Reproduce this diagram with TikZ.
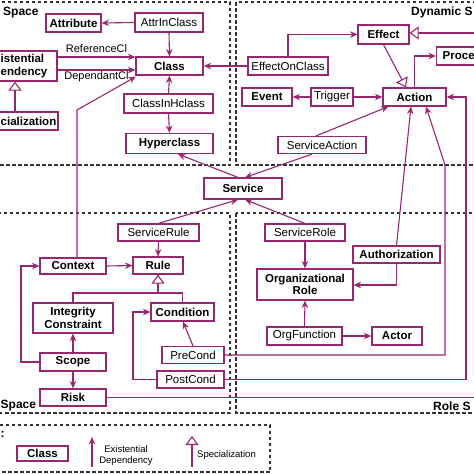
\documentclass[tikz,border=0pt]{standalone}
\usepackage{fontspec}
\setmainfont{Liberation Sans}
\usetikzlibrary{arrows.meta}
\definecolor{mag}{RGB}{150,40,112}
\begin{document}
\begin{tikzpicture}[x=1pt,y=-1pt,
  box/.style={draw=mag, line width=1.2pt, fill=white, inner sep=0pt, align=center},
  cls/.style={box, font=\fontsize{11.5}{12.5}\selectfont\bfseries},
  rel/.style={box, font=\fontsize{11.5}{12.5}\selectfont},
  ctext/.style={inner sep=0pt, align=left, font=\fontsize{11.5}{12.5}\selectfont\bfseries},
  ln/.style={draw=mag, line width=1.1pt},
  ed/.style={ln, -{Stealth[length=7.5pt,width=6.5pt,inset=2.5pt]}},
  sp/.style={ln, -{Triangle[open,length=9pt,width=13pt,fill=white]}},
  region/.style={draw=black!80, dash pattern=on 3.5pt off 2.5pt, line width=1.2pt},
  rlabel/.style={font=\fontsize{12}{13}\selectfont\bfseries, inner sep=0pt},
  lbl/.style={font=\fontsize{11}{12}\selectfont, inner sep=0pt},
  leg/.style={font=\fontsize{9.5}{10.5}\selectfont, inner sep=0pt, align=center}
]
\useasboundingbox (0,0) rectangle (474,474);
\clip (0,0) rectangle (474,474);
\fill[white] (0,0) rectangle (474,474);

% regions
\draw[region] (-5,2) rectangle (230,165);
\draw[region] (236,2) rectangle (490,165);
\draw[region] (-5,213) rectangle (230,413);
\draw[region] (236,213) rectangle (490,413);
\draw[region] (-5,425) rectangle (270,472);

\node[rlabel, anchor=west] (lts) at (3,13) {Space};
\node[rlabel, anchor=west] (ltd) at (411,12) {Dynamic S};
\node[rlabel, anchor=west] (lbs) at (0.5,406) {Space};
\node[rlabel, anchor=west] (lbr) at (433,406) {Role S};
\node[rlabel, anchor=west] (lleg) at (0.5,434) {:};

% nodes
\node[cls, minimum width=55pt, minimum height=18pt] (attr) at (73.5,23) {Attribute};
\node[rel, minimum width=68pt, minimum height=19pt] (aic) at (169,22.5) {AttrInClass};
\node[cls, minimum width=67pt, minimum height=18pt] (cls) at (169.5,66) {Class};
\node[cls, minimum width=84pt, minimum height=30pt] (exd) at (15,66) {};
\node[ctext, anchor=west, align=left] (exdt) at (0.5,66) {istential\\endency};
\node[cls, minimum width=84pt, minimum height=18pt] (spc) at (16,121) {};
\node[ctext, anchor=west] (spct) at (0.5,121) {cialization};
\node[rel, minimum width=89pt, minimum height=19pt] (cih) at (168.5,103.5) {ClassInHclass};
\node[cls, minimum width=87pt, minimum height=20pt] (hyp) at (169.5,143.5) {Hyperclass};
\node[rel, minimum width=80pt, minimum height=18pt] (eoc) at (288,66) {EffectOnClass};
\node[cls, minimum width=51pt, minimum height=19pt] (eff) at (383.5,34.5) {Effect};
\node[cls, minimum width=62pt, minimum height=18pt, anchor=west] (proc) at (436,56) {};
\node[ctext, anchor=west] (proct) at (442.5,56) {Proce};
\node[cls, minimum width=63pt, minimum height=18pt] (act) at (414.5,97) {Action};
\node[cls, minimum width=50pt, minimum height=18pt] (evt) at (267,97) {Event};
\node[rel, minimum width=42pt, minimum height=18pt] (trg) at (332,97) {Trigger};
\node[rel, minimum width=88pt, minimum height=17pt] (sa) at (322,145) {ServiceAction};
\node[cls, minimum width=78pt, minimum height=21pt] (srv) at (243,188.5) {Service};
\node[rel, minimum width=81pt, minimum height=17pt] (sr) at (158.5,232.5) {ServiceRule};
\node[rel, minimum width=80pt, minimum height=17pt] (srole) at (305,232.5) {ServiceRole};
\node[cls, minimum width=50pt, minimum height=17pt] (rule) at (158,265.5) {Rule};
\node[cls, minimum width=66pt, minimum height=16pt] (ctx) at (73,266) {Context};
\node[cls, minimum width=87pt, minimum height=17pt] (auth) at (396.5,254.5) {Authorization};
\node[cls, minimum width=96pt, minimum height=31pt] (orole) at (305,284.5) {Organizational\\Role};
\node[rel, minimum width=75pt, minimum height=18pt] (ofn) at (304.5,336) {OrgFunction};
\node[cls, minimum width=50pt, minimum height=18pt] (actor) at (397,336) {Actor};
\node[cls, minimum width=80pt, minimum height=30pt] (ic) at (73,318) {Integrity\\Constraint};
\node[cls, minimum width=63pt, minimum height=18pt] (cond) at (182.5,312) {Condition};
\node[rel, minimum width=62pt, minimum height=17pt] (prec) at (193,355) {PreCond};
\node[rel, minimum width=67pt, minimum height=17pt] (postc) at (190.5,379.5) {PostCond};
\node[cls, minimum width=66pt, minimum height=18pt] (scope) at (73,362) {Scope};
\node[cls, minimum width=66pt, minimum height=17pt] (risk) at (73,397.5) {Risk};

% connectors
\draw[ed] (aic.west) -- (attr.east);
\draw[ed] (aic.south) -- (cls.north);
\draw[ed] ([yshift=9pt]exd.east) -- node[lbl, above=4pt] (lref) {ReferenceCl} ([yshift=9pt]cls.west);
\draw[ed] ([yshift=-4pt]exd.east) -- node[lbl, below=0.5pt] (ldep) {DependantCl} ([yshift=-4pt]cls.west);
\draw[sp] (exd.south |- spc.north) -- (exd.south);
\draw[ed] (cih.north) -- (cls.south);
\draw[ed] (cih.south) -- (hyp.north);
\draw[ed] ([xshift=4pt]ctx.north) -- (77,110) -- ([xshift=0.5pt,yshift=-1pt]cls.south west);
\draw[ed] (eoc.west) -- (cls.east);
\draw[ed] (eoc.north) |- (eff.west);
\draw[sp] (495,33) -- ([yshift=1.5pt]eff.east);
\draw[sp] (eff.south) -- ([xshift=-8.5pt]act.north);
\draw[ed] (act.north) |- (proc.west);
\draw[ed] (trg.west) -- (evt.east);
\draw[ed] (trg.east) -- (act.west);
\draw[ed] ([xshift=-6pt]sa.north) -- ([xshift=6pt]act.south west);
\draw[ed] ([xshift=-10pt]sa.south) -- ([xshift=2pt]srv.north);
\draw[ed] ([xshift=-5pt]srv.north) -- ([xshift=8.5pt]hyp.south);
\draw[ed] (sr.north) -- ([xshift=-5pt]srv.south);
\draw[ed] (srole.north) -- ([xshift=2pt]srv.south);
\draw[ed] (sr.south) -- (rule.north);
\draw[ed] (ctx.east) -- (rule.west);
\draw[ed] (srole.south) -- (orole.north);
\draw[ed] (auth.south) |- ([yshift=-0.5pt]orole.east);
\draw[ed] (auth.north) -- ([xshift=-3.5pt]act.south);
\draw[ed] (prec.east) -- (445,355) -- (445,165) -- ([xshift=11.5pt]act.south);
\draw[ed] (postc.east) -- (466,379.5) |- (act.east);
\draw[ln] (risk.east) -- (495,397.5);
\draw[ed] (ofn.north) -- (orole.south);
\draw[ed] (ofn.east) -- (actor.west);
\coordinate (rj) at (158,293);
\draw[ln] (ic.north) |- (rj) -| (cond.north);
\draw[sp] (rj) -- (rule.south);
\draw[ed] (scope.north) -- (ic.south);
\draw[ed] (scope.south) -- (risk.north);
\draw[ed] (scope.west) -- (21,362) |- (ctx.west);
\draw[ed] (prec.north) -- ([xshift=0.5pt]cond.south);
\draw[ed] (postc.west) -- (133,379.5) |- (cond.west);

% legend
\node[cls, minimum width=51pt, minimum height=15pt] (lcls) at (42.5,453.5) {Class};
\coordinate (le1) at (92,467);
\coordinate (le2) at (92,437);
\draw[ed] (le1) -- (le2);
\node[leg] (ltxt1) at (126,455.5) {Existential\\Dependency};
\coordinate (ls1) at (192,467);
\coordinate (ls2) at (192,436);
\draw[sp] (ls1) -- (ls2);
\node[leg, anchor=west] (ltxt2) at (197,455.5) {Specialization};
\end{tikzpicture}
\end{document}
